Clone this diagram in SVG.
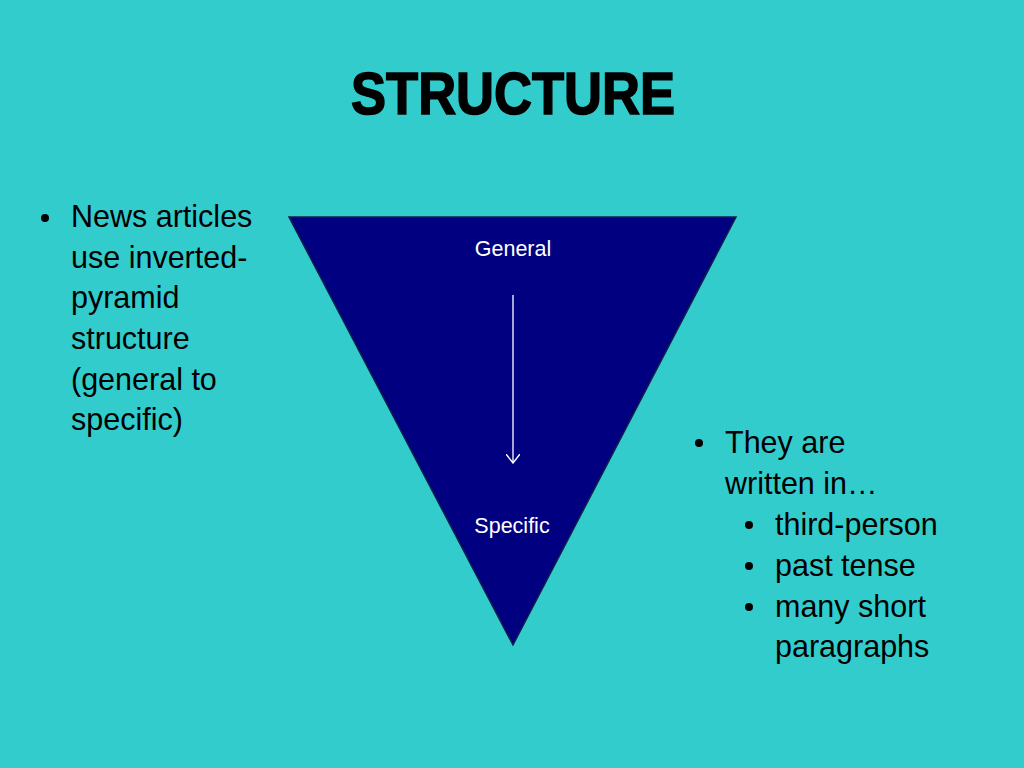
<svg xmlns="http://www.w3.org/2000/svg" width="1024" height="768" viewBox="0 0 1024 768">
<style>
.body{font-family:"Liberation Sans",Arial,sans-serif;font-size:30.5px;fill:#000}
.lbl{font-family:"Liberation Sans",Arial,sans-serif;font-size:21.5px;fill:#fff;text-anchor:middle}
.title{font-family:"Liberation Sans",Arial,sans-serif;font-weight:bold;font-size:60px;fill:#000;stroke:#000;stroke-width:1.6px;text-anchor:middle}
</style>
<defs>
<marker id="arr" viewBox="0 0 10 14" refX="9" refY="7" markerWidth="10" markerHeight="14" markerUnits="userSpaceOnUse" orient="auto">
<path d="M0,0 L9,7 L0,14" fill="none" stroke="#fff" stroke-width="1.4"/>
</marker>
</defs>
<rect width="1024" height="768" fill="#33CCCC"/>
<text class="title" x="513" y="114" textLength="324" lengthAdjust="spacingAndGlyphs">STRUCTURE</text>
<g id="pyramid">
<polygon points="289,217 736,217 513,645" fill="#000080" stroke="#10204a" stroke-width="1.5"/>
<text class="lbl" x="513" y="256">General</text>
<text class="lbl" x="512" y="533">Specific</text>
</g>
<g id="connectors">
<line x1="513" y1="295" x2="513" y2="463" stroke="#fff" stroke-width="1.3" marker-end="url(#arr)"/>
</g>
<g id="left-text">
<circle cx="45" cy="218" r="4" fill="#000"/>
<text class="body" x="71" y="227">News articles</text>
<text class="body" x="71" y="268">use inverted-</text>
<text class="body" x="71" y="308">pyramid</text>
<text class="body" x="71" y="349">structure</text>
<text class="body" x="71" y="390">(general to</text>
<text class="body" x="71" y="430">specific)</text>
</g>
<g id="right-text">
<circle cx="699" cy="443" r="4" fill="#000"/>
<text class="body" x="725" y="453">They are</text>
<text class="body" x="725" y="494">written in…</text>
<circle cx="749" cy="525" r="4" fill="#000"/>
<text class="body" x="775" y="535">third-person</text>
<circle cx="749" cy="566" r="4" fill="#000"/>
<text class="body" x="775" y="576">past tense</text>
<circle cx="749" cy="607" r="4" fill="#000"/>
<text class="body" x="775" y="617">many short</text>
<text class="body" x="775" y="657">paragraphs</text>
</g>
</svg>
